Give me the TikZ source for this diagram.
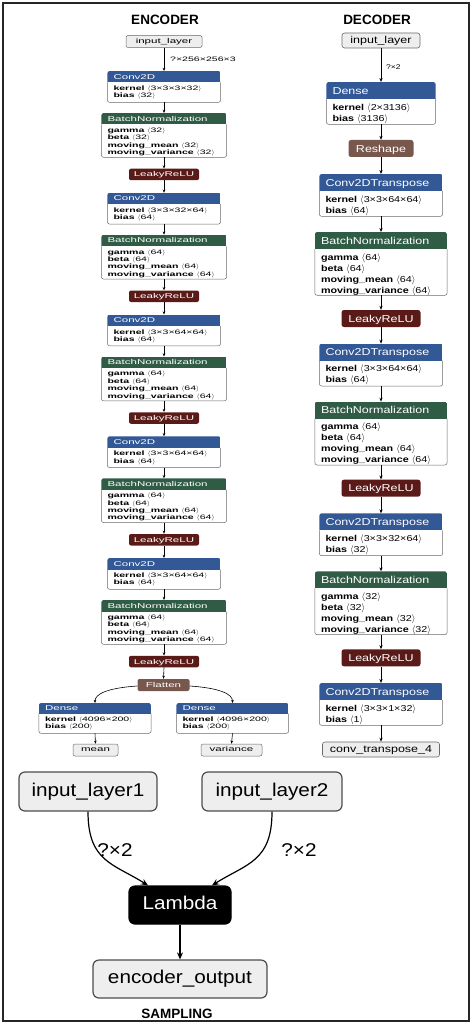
\documentclass[tikz,border=0pt]{standalone}
\usepackage{fontspec}
\setmainfont{Liberation Sans}
\newfontfamily\encfont{Liberation Sans}[FakeStretch=1.65]
\newfontfamily\decfont{Liberation Sans}[FakeStretch=1.25]
\newfontfamily\smpfont{Liberation Sans}[FakeStretch=1.12]
\usepackage{tikz}
\usetikzlibrary{positioning,calc,arrows.meta}

\definecolor{layerblue}{RGB}{50,88,150}
\definecolor{normgreen}{RGB}{48,92,70}
\definecolor{actred}{RGB}{90,27,24}
\definecolor{shapebrown}{RGB}{120,88,76}
\definecolor{inputgray}{RGB}{238,238,238}
\definecolor{edgegray}{RGB}{105,105,105}

\newcommand{\shp}[1]{$\langle$#1$\rangle$}

% layer card: coloured header band and attribute lines
\newcommand{\netlayer}[9]{%
  \node[layerbox, minimum width=#3, minimum height=#4, anchor=north] (#1) at #2 {};
  \begin{scope}
    \clip[rounded corners=2.5pt] (#1.north west) rectangle (#1.south east);
    \fill[#6] (#1.north west) rectangle ([yshift=-#5]#1.north east);
  \end{scope}
  \draw[layeredge] ([yshift=-#5]#1.north west) |- (#1.south) -| ([yshift=-#5]#1.north east);
  \node[#7head] (#1-t) at ([xshift=6, yshift=-#5/2]#1.north west) {#8};
  \node[#7body] (#1-b) at ([xshift=6, yshift=-#5]#1.north west) {#9};
}

\tikzset{
  layerbox/.style={fill=white, rounded corners=2.5pt, inner sep=0pt},
  layeredge/.style={draw=edgegray, line width=0.5pt, rounded corners=2.5pt},
  paneltitle/.style={font=\bfseries\fontsize{13.5}{16}\selectfont, inner sep=0pt},
  % encoder panel
  enchead/.style={font=\encfont\fontsize{7}{8}\selectfont, text=white, inner sep=0pt, anchor=west, text height=5pt, text depth=0pt},
  encbody/.style={font=\encfont\fontsize{6.4}{7.4}\selectfont, align=left, inner sep=0pt, anchor=north west, yshift=-3.2},
  encinput/.style={draw=edgegray, fill=inputgray, line width=0.5pt, rounded corners=2pt, inner sep=0pt, font=\encfont\fontsize{7}{8}\selectfont, text height=5pt, text depth=1.5pt},
  encact/.style={text=white, rounded corners=2pt, inner sep=0pt, minimum height=11.5, font=\encfont\fontsize{7}{8}\selectfont, text height=5pt, text depth=0pt},
  enclabel/.style={font=\encfont\fontsize{6.4}{7.4}\selectfont, inner sep=0pt, anchor=west},
  encarr/.style={-{Stealth[length=3.2pt,width=2.6pt]}, line width=0.6pt},
  % decoder panel
  dechead/.style={font=\decfont\fontsize{10}{12}\selectfont, text=white, inner sep=0pt, anchor=west, text height=7.2pt, text depth=0pt},
  decbody/.style={font=\decfont\fontsize{8.6}{11}\selectfont, align=left, inner sep=0pt, anchor=north west, yshift=-4.2},
  decinput/.style={draw=edgegray, fill=inputgray, line width=0.6pt, rounded corners=2.5pt, inner sep=0pt, font=\decfont\fontsize{10}{12}\selectfont, text height=7.2pt, text depth=2pt},
  decact/.style={text=white, rounded corners=2.5pt, inner sep=0pt, minimum height=17, font=\decfont\fontsize{10}{12}\selectfont, text height=7.2pt, text depth=0pt},
  declabel/.style={font=\decfont\fontsize{6.8}{8}\selectfont, inner sep=0pt, anchor=west},
  decarr/.style={-{Stealth[length=4pt,width=3.2pt]}, line width=0.7pt},
  % sampling panel
  smpbox/.style={draw=black!70, fill=inputgray, line width=1.2pt, rounded corners=6pt, inner sep=0pt, font=\smpfont\fontsize{18.5}{22}\selectfont, text height=13.3pt, text depth=4pt},
  smplabel/.style={font=\smpfont\fontsize{18.5}{22}\selectfont, inner sep=0pt},
  smparr/.style={-{Stealth[length=7pt,width=6pt]}, line width=1.2pt},
}

\begin{document}
\begin{tikzpicture}[x=1pt, y=-1pt]
  \useasboundingbox (0,0) rectangle (472,1024);

  % Frame
  \draw[line width=1.8pt, black!85] (3,3) rectangle (469,1021);

  % Titles
  \node[paneltitle] (enctitle) at (165,20) {ENCODER};
  \node[paneltitle] (dectitle) at (377,20) {DECODER};
  \node[paneltitle] (smptitle) at (177,1014) {SAMPLING};

  % Encoder
  \node[encinput, minimum width=76, minimum height=12] (encin) at (164,41.5) {input\_layer};
  \node[enclabel] (encshape) at (170,59) {?×256×256×3};

  \foreach \kn/\bs [count=\idx from 0] in {3×3×3×32/32, 3×3×32×64/64, 3×3×64×64/64, 3×3×64×64/64, 3×3×64×64/64} {
    \pgfmathsetmacro\yy{71+121.75*\idx}
    \pgfmathtruncatemacro\nn{\idx+1}
    \netlayer{econv\nn}{(164,\yy)}{113}{31}{11.5}{layerblue}{enc}{Conv2D}{\textbf{kernel} \shp{\kn}\\\textbf{bias} \shp{\bs}}
    \netlayer{ebn\nn}{(164,\yy+42)}{125}{44}{11.5}{normgreen}{enc}{BatchNormalization}{\textbf{gamma} \shp{\bs}\\\textbf{beta} \shp{\bs}\\\textbf{moving\_mean} \shp{\bs}\\\textbf{moving\_variance} \shp{\bs}}
    \node[encact, fill=actred, minimum width=70] (eact\nn) at (164,\yy+103.5) {LeakyReLU};
    \draw[encarr] (econv\nn.south) -- (ebn\nn.north);
    \draw[encarr] (ebn\nn.south) -- (eact\nn.north);
  }

  \draw[encarr] (encin.south) -- (econv1.north);
  \foreach \i [evaluate=\i as \j using int(\i+1)] in {1,...,4}
    \draw[encarr] (eact\i.south) -- (econv\j.north);

  \node[encact, fill=shapebrown, minimum width=52, minimum height=12] (eflat) at (163.5,685) {Flatten};
  \draw[encarr] (eact5.south) -- (eflat.north);

  \netlayer{edensel}{(95,703)}{112}{30}{10.5}{layerblue}{enc}{Dense}{\textbf{kernel} \shp{4096×200}\\\textbf{bias} \shp{200}}
  \netlayer{edenser}{(232.5,703)}{112}{30}{10.5}{layerblue}{enc}{Dense}{\textbf{kernel} \shp{4096×200}\\\textbf{bias} \shp{200}}
  \draw[encarr] ([yshift=-1]eflat.west) .. controls +(-30,2) and +(0,-9) .. (edensel.north);
  \draw[encarr] ([yshift=-1]eflat.east) .. controls +(30,2) and +(0,-9) .. (edenser.north);

  \node[encinput, minimum width=45, minimum height=12] (emean) at (95.5,750) {mean};
  \node[encinput, minimum width=61, minimum height=12] (evar) at (231.5,750) {variance};
  \draw[encarr] (edensel.south) -- (emean.north);
  \draw[encarr] (edenser.south) -- (evar.north);

  % Decoder
  \node[decinput, minimum width=78, minimum height=15] (din) at (381,40.5) {input\_layer};
  \node[declabel] (dshape) at (386,67) {?×2};
  \netlayer{ddense}{(381,82)}{109}{42}{17}{layerblue}{dec}{Dense}{\textbf{kernel} \shp{2×3136}\\\textbf{bias} \shp{3136}}
  \node[decact, fill=shapebrown, minimum width=65] (dreshape) at (381,148.5) {Reshape};
  \draw[decarr] (din.south) -- (ddense.north);
  \draw[decarr] (ddense.south) -- (dreshape.north);

  \foreach \kn/\bs [count=\idx from 0] in {3×3×64×64/64, 3×3×64×64/64, 3×3×32×64/32} {
    \pgfmathsetmacro\yy{174+169.67*\idx}
    \pgfmathtruncatemacro\nn{\idx+1}
    \netlayer{dconv\nn}{(381,\yy)}{123}{42}{17}{layerblue}{dec}{Conv2DTranspose}{\textbf{kernel} \shp{\kn}\\\textbf{bias} \shp{\bs}}
    \netlayer{dbn\nn}{(381,\yy+58)}{132}{63}{17}{normgreen}{dec}{BatchNormalization}{\textbf{gamma} \shp{\bs}\\\textbf{beta} \shp{\bs}\\\textbf{moving\_mean} \shp{\bs}\\\textbf{moving\_variance} \shp{\bs}}
    \node[decact, fill=actred, minimum width=79] (dact\nn) at (381,\yy+144.5) {LeakyReLU};
    \draw[decarr] (dconv\nn.south) -- (dbn\nn.north);
    \draw[decarr] (dbn\nn.south) -- (dact\nn.north);
  }

  \netlayer{dconv4}{(381,683)}{123}{42}{17}{layerblue}{dec}{Conv2DTranspose}{\textbf{kernel} \shp{3×3×1×32}\\\textbf{bias} \shp{1}}
  \node[decinput, minimum width=117, minimum height=15] (dout) at (381,749.5) {conv\_transpose\_4};

  \draw[decarr] (dreshape.south) -- (dconv1.north);
  \foreach \i [evaluate=\i as \j using int(\i+1)] in {1,...,3}
    \draw[decarr] (dact\i.south) -- (dconv\j.north);
  \draw[decarr] (dconv4.south) -- (dout.north);

  % Sampling
  \node[smpbox, minimum width=138, minimum height=39] (smpin1) at (88,791.5) {input\_layer1};
  \node[smpbox, minimum width=140, minimum height=39] (smpin2) at (272,791.5) {input\_layer2};
  \node[smpbox, fill=black, draw=black, text=white, minimum width=102, minimum height=38] (lambda) at (180,905) {Lambda};
  \node[smpbox, minimum width=174, minimum height=38] (encout) at (180,979) {encoder\_output};

  \draw[smparr] (smpin1.south) .. controls +(0,50) and +(-35,-22) .. ([xshift=-32]lambda.north);
  \draw[smparr] (smpin2.south) .. controls +(0,50) and +(35,-22) .. ([xshift=32]lambda.north);
  \draw[smparr] (lambda.south) -- (encout.north);
  \node[smplabel] (smplbl1) at (115,850) {?×2};
  \node[smplabel] (smplbl2) at (299,850) {?×2};
\end{tikzpicture}
\end{document}
